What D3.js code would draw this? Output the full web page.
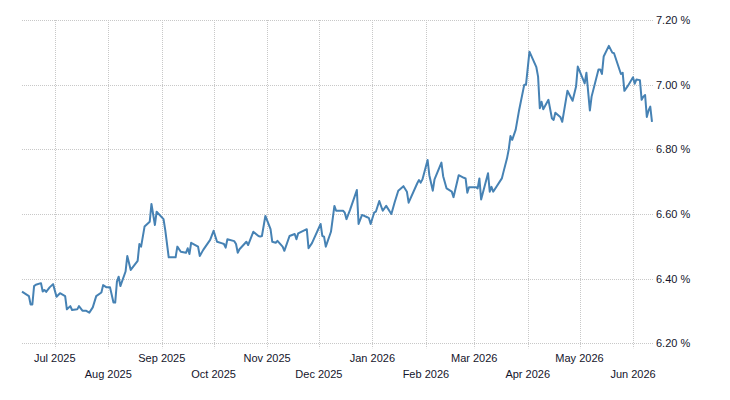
<!DOCTYPE html>
<html>
<head>
<meta charset="utf-8">
<script src="https://cdn.jsdelivr.net/npm/d3@7"></script>
<style>
  body { margin: 0; background: #fff; }
  svg text { font-family: "Liberation Sans", Arial, sans-serif; font-size: 11px; fill: #14142b; }
</style>
</head>
<body>
<svg id="chart" width="730" height="400"></svg>
<script>
// yield readings, one per trading day roughly
var dates = [
  '2025-06-12','2025-06-16','2025-06-17','2025-06-18','2025-06-19','2025-06-20','2025-06-23','2025-06-24','2025-06-25','2025-06-26',
  '2025-06-28','2025-06-30','2025-07-02','2025-07-04','2025-07-07','2025-07-08','2025-07-10','2025-07-11','2025-07-14','2025-07-15',
  '2025-07-17','2025-07-19','2025-07-21','2025-07-23','2025-07-25','2025-07-28','2025-07-29','2025-07-31','2025-08-02','2025-08-04',
  '2025-08-05','2025-08-06','2025-08-07','2025-08-08','2025-08-11','2025-08-12','2025-08-14','2025-08-18','2025-08-19','2025-08-20',
  '2025-08-22','2025-08-25','2025-08-26','2025-08-28','2025-08-29','2025-09-02','2025-09-03','2025-09-05','2025-09-09','2025-09-10',
  '2025-09-12','2025-09-15','2025-09-16','2025-09-17','2025-09-18','2025-09-22','2025-09-23','2025-09-25','2025-09-29','2025-10-01',
  '2025-10-03','2025-10-06','2025-10-07','2025-10-08','2025-10-09','2025-10-13','2025-10-14','2025-10-15','2025-10-16','2025-10-20',
  '2025-10-21','2025-10-24','2025-10-27','2025-10-28','2025-10-29','2025-10-31','2025-11-03','2025-11-04','2025-11-06','2025-11-07',
  '2025-11-10','2025-11-11','2025-11-14','2025-11-17','2025-11-18','2025-11-19','2025-11-24','2025-11-25','2025-11-27','2025-12-02',
  '2025-12-03','2025-12-04','2025-12-05','2025-12-08','2025-12-10','2025-12-11','2025-12-15','2025-12-16','2025-12-17','2025-12-19',
  '2025-12-23','2025-12-24','2025-12-26','2025-12-29','2025-12-30','2025-12-31','2026-01-02','2026-01-03','2026-01-05','2026-01-07',
  '2026-01-09','2026-01-12','2026-01-14','2026-01-16','2026-01-19','2026-01-21','2026-01-22','2026-01-27','2026-01-28','2026-01-29',
  '2026-01-30','2026-02-02','2026-02-03','2026-02-05','2026-02-06','2026-02-10','2026-02-11','2026-02-13','2026-02-16','2026-02-17',
  '2026-02-20','2026-02-23','2026-02-24','2026-02-25','2026-02-26','2026-03-02','2026-03-03','2026-03-04','2026-03-05','2026-03-09',
  '2026-03-10','2026-03-11','2026-03-12','2026-03-17','2026-03-18','2026-03-20','2026-03-21','2026-03-22','2026-03-23','2026-03-25',
  '2026-03-27','2026-03-30','2026-03-31','2026-04-02','2026-04-06','2026-04-07','2026-04-08','2026-04-09','2026-04-10','2026-04-13',
  '2026-04-15','2026-04-16','2026-04-17','2026-04-20','2026-04-21','2026-04-24','2026-04-27','2026-04-29','2026-04-30','2026-05-04',
  '2026-05-05','2026-05-07','2026-05-08','2026-05-12','2026-05-13','2026-05-14','2026-05-15','2026-05-18','2026-05-20','2026-05-21',
  '2026-05-25','2026-05-26','2026-05-27','2026-05-29','2026-06-01','2026-06-02','2026-06-03','2026-06-05','2026-06-06','2026-06-07',
  '2026-06-08','2026-06-09','2026-06-10','2026-06-11','2026-06-12'
];
var yields = [
  6.360,6.346,6.320,6.320,6.377,6.381,6.386,6.360,6.365,6.359,
  6.373,6.383,6.344,6.355,6.346,6.305,6.315,6.303,6.305,6.315,
  6.301,6.301,6.295,6.311,6.346,6.357,6.380,6.373,6.373,6.326,
  6.326,6.391,6.406,6.377,6.422,6.470,6.427,6.455,6.507,6.499,
  6.561,6.576,6.631,6.566,6.607,6.584,6.550,6.466,6.466,6.499,
  6.483,6.480,6.494,6.476,6.511,6.499,6.470,6.489,6.520,6.548,
  6.514,6.509,6.507,6.496,6.522,6.516,6.507,6.480,6.491,6.514,
  6.504,6.545,6.532,6.530,6.532,6.594,6.553,6.514,6.511,6.517,
  6.499,6.486,6.532,6.538,6.522,6.540,6.553,6.494,6.510,6.569,
  6.532,6.530,6.499,6.545,6.625,6.610,6.610,6.604,6.584,6.612,
  6.674,6.569,6.597,6.590,6.587,6.569,6.604,6.607,6.640,6.610,
  6.625,6.600,6.638,6.672,6.686,6.669,6.635,6.695,6.705,6.697,
  6.707,6.767,6.720,6.672,6.707,6.759,6.717,6.679,6.669,6.652,
  6.720,6.712,6.710,6.666,6.683,6.683,6.679,6.710,6.645,6.726,
  6.669,6.684,6.669,6.710,6.731,6.772,6.800,6.841,6.829,6.860,
  6.921,7.000,7.000,7.102,7.054,7.025,6.927,6.947,6.924,6.953,
  6.896,6.891,6.913,6.899,6.885,6.981,6.950,6.994,7.056,7.004,
  7.037,6.920,6.963,7.047,7.047,7.033,7.087,7.120,7.099,7.097,
  7.033,7.037,6.981,6.996,7.023,7.003,7.016,7.014,6.953,6.963,
  6.968,6.900,6.920,6.932,6.885
];
var yTicks = [6.2, 6.4, 6.6, 6.8, 7.0, 7.2];
var monthTicks = ['2025-07-01','2025-08-01','2025-09-01','2025-10-01','2025-11-01','2025-12-01',
  '2026-01-01','2026-02-01','2026-03-01','2026-04-01','2026-05-01','2026-06-01'];

var parse = d3.timeParse('%Y-%m-%d');
var data = dates.map(function (d, i) { return { date: parse(d), value: yields[i] }; });
var ticks = monthTicks.map(parse);

var svg = d3.select('#chart');
var plotLeft = 22, plotRight = 652, plotTop = 20, plotBottom = 343.3;

var x = d3.scaleTime()
    .domain(d3.extent(data, function (d) { return d.date; }))
    .range([plotLeft, plotRight]);
var y = d3.scaleLinear().domain([6.2, 7.2]).range([plotBottom, plotTop]);

// dotted grid
var grid = svg.append('g');
grid.selectAll('line.h').data(yTicks).enter().append('line')
    .attr('x1', plotLeft).attr('x2', 653)
    .attr('y1', function (d) { return Math.round(y(d)) + 0.5; })
    .attr('y2', function (d) { return Math.round(y(d)) + 0.5; })
    .attr('stroke', '#c8c8c8').attr('stroke-dasharray', '1,1');
grid.selectAll('line.v').data(ticks).enter().append('line')
    .attr('x1', function (d) { return Math.round(x(d)) + 0.5; })
    .attr('x2', function (d) { return Math.round(x(d)) + 0.5; })
    .attr('y1', plotTop).attr('y2', plotBottom + 5)
    .attr('stroke', '#c8c8c8').attr('stroke-dasharray', '1,1');

svg.append('g').selectAll('text').data(yTicks).enter().append('text')
    .attr('x', 656)
    .attr('y', function (d) { return y(d) + 4; })
    .text(function (d) { return d.toFixed(2) + ' %'; });

var fmt = d3.timeFormat('%b %Y');
svg.append('g').selectAll('text').data(ticks).enter().append('text')
    .attr('x', function (d) { return x(d); })
    .attr('y', function (d, i) { return i % 2 === 0 ? 362 : 378; })
    .attr('text-anchor', 'middle')
    .text(fmt);

var line = d3.line()
    .x(function (d) { return x(d.date); })
    .y(function (d) { return y(d.value); });

svg.append('path').datum(data)
    .attr('d', line)
    .attr('fill', 'none')
    .attr('stroke', '#4682b4')
    .attr('stroke-width', 2)
    .attr('stroke-linejoin', 'round');
</script>
</body>
</html>
